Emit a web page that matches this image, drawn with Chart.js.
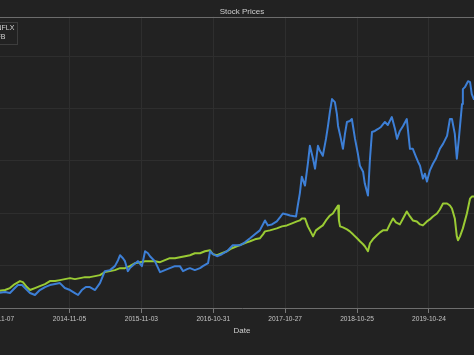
<!DOCTYPE html>
<html><head><meta charset="utf-8">
<script src="https://cdn.jsdelivr.net/npm/chart.js@4.4.0/dist/chart.umd.min.js"></script>
<style>
html,body{margin:0;padding:0;background:#222222;width:474px;height:355px;overflow:hidden;}
#wrap{position:absolute;left:-43px;top:0;width:570px;height:355px;}
</style></head><body>
<div id="wrap"><canvas id="c"></canvas></div>
<script>
// x values are trading-day indices counted from 2013-11-07
const tickDays = [0, 250, 500, 750, 1000, 1250, 1500];
const tickLabels = ['2013-11-07','2014-11-05','2015-11-03','2016-10-31','2017-10-27','2018-10-25','2019-10-24'];
const gridPrices = [100, 200, 300, 400, 500];
const seriesNames = ['NFLX', 'FB'];

const nflxDays = [1,26,43,60,71,85,99,113,130,147,165,182,200,217,234,252,269,280,293,307,321,339,356,366,373,391,408,419,426,436,443,453,460,471,488,502,513,523,530,547,565,582,599,617,634,645,659,669,686,704,714,732,739,749,763,780,798,818,843,860,878,895,912,930,940,954,971,982,992,1006,1017,1038,1044,1051,1058,1069,1079,1086,1097,1104,1114,1121,1131,1142,1149,1156,1163,1173,1180,1184,1194,1201,1208,1215,1225,1232,1243,1253,1260,1271,1277,1288,1295,1302,1312,1323,1333,1347,1357,1371,1382,1389,1399,1410,1423,1434,1444,1455,1462,1469,1479,1486,1493,1503,1514,1524,1538,1549,1563,1573,1580,1590,1597,1604,1615,1618,1625,1636,1643,1649,1656,1667];
const nflxPrices = [47.5,49.4,47.5,57.0,62.7,62.7,55.1,47.5,43.7,53.2,58.9,62.7,64.6,66.5,57.0,53.2,47.5,43.7,53.2,58.9,58.9,53.2,66.5,79.8,89.4,91.3,98.9,110.3,119.8,114.1,108.4,89.4,95.1,100.8,108.4,98.9,127.4,123.6,117.9,108.4,87.5,91.3,95.1,98.9,98.9,89.4,93.2,95.1,91.3,95.1,98.9,104.6,127.4,121.7,117.9,121.7,127.4,138.8,138.8,144.5,152.1,159.7,167.3,186.3,176.8,178.7,184.4,192.0,199.6,197.7,195.8,193.9,214.8,237.6,270.0,252.9,294.7,328.9,304.2,285.2,328.9,319.4,309.9,342.2,366.9,395.4,418.3,412.5,389.7,366.9,342.2,323.2,351.7,374.5,376.4,380.2,342.2,313.7,290.9,279.5,256.7,233.8,304.2,355.5,357.4,361.2,365.0,374.5,368.8,384.0,361.2,342.2,357.4,366.9,380.2,323.2,323.2,308.0,298.5,290.9,266.2,275.7,260.5,281.4,294.7,304.2,323.2,332.7,347.9,380.2,380.2,351.7,304.2,342.2,408.7,437.3,441.1,452.5,450.6,427.8,418.3,418.3];

const fbDays = [1,26,43,60,78,88,102,113,130,147,165,182,200,217,234,252,269,287,304,321,339,356,373,391,408,426,443,460,478,495,513,530,547,565,582,599,617,634,652,669,686,704,721,739,749,763,780,798,815,832,850,867,878,895,912,923,930,947,971,989,1006,1024,1041,1051,1058,1069,1079,1090,1097,1107,1121,1131,1142,1156,1166,1177,1184,1187,1191,1201,1215,1225,1236,1250,1260,1271,1277,1288,1295,1305,1319,1330,1340,1354,1364,1375,1385,1399,1410,1423,1434,1444,1458,1469,1479,1493,1503,1514,1528,1538,1549,1563,1573,1580,1590,1597,1601,1608,1618,1632,1643,1649,1656,1667];
const fbPrices = [51.3,53.2,57.0,64.6,70.3,68.4,58.9,53.2,57.0,60.8,64.6,70.3,70.3,72.2,74.1,76.0,74.1,76.0,77.9,77.9,79.8,81.7,87.5,89.4,91.3,95.1,95.1,98.9,104.6,106.5,108.4,108.4,108.4,106.5,110.3,114.1,114.1,116.0,117.9,119.8,123.6,123.6,127.4,129.3,121.7,119.8,123.6,127.4,133.1,136.9,140.7,144.5,146.4,150.2,152.1,159.7,165.4,167.3,171.1,174.9,176.8,180.6,184.4,186.3,190.1,190.1,174.9,163.5,155.9,167.3,173.0,176.8,186.3,195.8,199.6,209.1,214.8,186.3,174.9,173.0,169.2,165.4,159.7,152.1,146.4,140.7,136.9,127.4,142.6,150.2,157.8,163.5,167.3,167.3,178.7,190.1,182.5,178.7,190.1,203.4,193.9,186.3,184.4,178.7,176.8,184.4,188.2,193.9,199.6,207.2,218.6,218.6,214.8,209.1,190.1,155.9,148.3,155.9,171.1,199.6,228.1,231.9,231.9,231.9];

const FONT = "'Liberation Sans', Arial, sans-serif";
const BLUE = '#3d7fd6';
const GREEN = '#9acb34';

const toPoints = (days, vals) => days.map((d, i) => ({ x: d, y: vals[i] }));

const topBorder = {
  id: 'topBorder',
  afterDraw(chart) {
    const { ctx, chartArea } = chart;
    const y = Math.round(chartArea.top) + 0.5;
    ctx.save();
    ctx.strokeStyle = '#6c6c6c';
    ctx.lineWidth = 1;
    ctx.beginPath();
    ctx.moveTo(chartArea.left, y);
    ctx.lineTo(chartArea.right, y);
    ctx.stroke();
    ctx.restore();
  }
};

const legendFrame = {
  id: 'legendFrame',
  afterDraw(chart) {
    const lg = chart.legend;
    if (!lg || !lg.legendHitBoxes || !lg.legendHitBoxes.length) return;
    const hb = lg.legendHitBoxes;
    const l = Math.min(...hb.map(b => b.left)) - 4;
    const t = Math.min(...hb.map(b => b.top)) - 3;
    const r = Math.max(...hb.map(b => b.left + b.width)) + 3;
    const bt = Math.max(...hb.map(b => b.top + b.height)) + 3;
    const ctx = chart.ctx;
    ctx.save();
    ctx.strokeStyle = '#3d3d3d';
    ctx.lineWidth = 1;
    ctx.strokeRect(Math.round(l) + 0.5, Math.round(t) + 0.5, Math.round(r - l), Math.round(bt - t));
    ctx.restore();
  }
};

new Chart(document.getElementById('c'), {
  type: 'line',
  data: {
    datasets: [
      { label: seriesNames[0], data: toPoints(nflxDays, nflxPrices), borderColor: BLUE, backgroundColor: BLUE, borderWidth: 2 },
      { label: seriesNames[1], data: toPoints(fbDays, fbPrices), borderColor: GREEN, backgroundColor: GREEN, borderWidth: 2 }
    ]
  },
  options: {
    responsive: true,
    maintainAspectRatio: false,
    animation: false,
    layout: { padding: { left: 0, right: 0, top: 0, bottom: 19.5 } },
    elements: { point: { radius: 0 }, line: { tension: 0, borderJoinStyle: 'round' } },
    plugins: {
      title: { display: true, text: 'Stock Prices', color: '#cfcfcf', font: { family: FONT, size: 8, weight: 'normal' }, padding: { top: 7, bottom: 0 } },
      legend: {
        position: 'chartArea', align: 'start',
        title: { display: true, text: '', font: { size: 4 }, padding: { top: 18, bottom: 0 } },
        labels: { color: '#d2d2d2', font: { family: FONT, size: 7 }, boxWidth: 34, boxHeight: 2, padding: 2 }
      },
      tooltip: { enabled: false }
    },
    scales: {
      x: {
        type: 'linear', min: -141, max: 1841,
        afterBuildTicks: s => { s.ticks = tickDays.map(v => ({ value: v })); },
        ticks: {
          callback: v => { const i = tickDays.indexOf(v); return i >= 0 ? tickLabels[i] : ''; },
          color: '#c4c4c4', font: { family: FONT, size: 6.6 }, padding: 2, maxRotation: 0, autoSkip: false
        },
        grid: { color: '#2e2e2e', tickColor: '#7a7a7a', tickLength: 4, lineWidth: 1 },
        border: { color: '#6e6e6e', width: 1 },
        title: { display: true, text: 'Date', color: '#cfcfcf', font: { family: FONT, size: 8 }, padding: { top: 1, bottom: 0 } }
      },
      y: {
        type: 'linear', min: 17, max: 576,
        afterBuildTicks: s => { s.ticks = gridPrices.map(v => ({ value: v })); },
        ticks: { display: false },
        grid: { color: '#2e2e2e', drawTicks: false },
        border: { display: false }
      }
    }
  },
  plugins: [topBorder, legendFrame]
});
</script>
</body></html>
